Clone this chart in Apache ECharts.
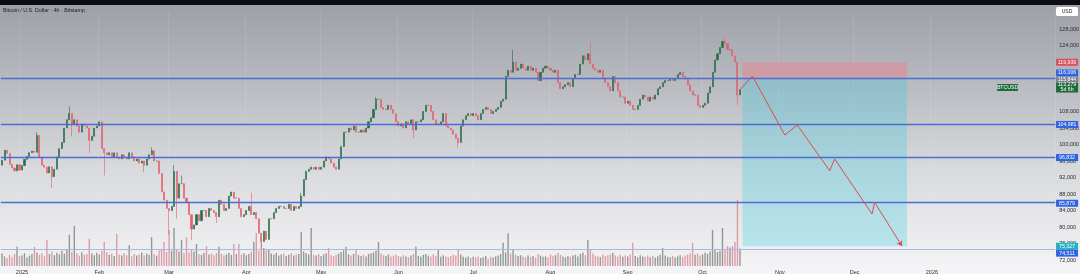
<!DOCTYPE html>
<html><head><meta charset="utf-8">
<script src="https://cdn.jsdelivr.net/npm/echarts@6/dist/echarts.min.js"></script>
<style>
html,body{margin:0;padding:0;width:1080px;height:274px;overflow:hidden;}
body{background:linear-gradient(to bottom,#0b0d12 0px,#0b0d12 5px,#9ea0a8 5px,#b8bac0 30%,#d9dadd 62%,#f5f5f7 100%);}
#c{width:1080px;height:274px;}
</style></head><body><div id="c"></div>
<script>
// ---- data (prices in thousand USD, one bar per day starting 2024-12-24) ----
const startDate = [2024, 11, 24];
const totalDays = 423;
const firstOpen = 95.0;
const closes = [
 96.2, 98.6, 97.8, 95.2, 94.3, 93.6, 95.1, 93.8, 94.9, 96.4,
 97.1, 98.0, 98.4, 98.1, 102.2, 96.9, 95.0, 94.5, 93.1, 94.6,
 92.2, 94.0, 97.0, 99.0, 100.5, 104.0, 106.0, 107.5, 105.0, 106.0,
 104.5, 103.0, 105.0, 104.5, 104.0, 101.0, 102.0, 104.0, 104.5, 105.5,
 99.0, 98.0, 97.5, 98.0, 97.0, 98.0, 97.0, 96.5, 97.5, 97.0,
 96.5, 98.0, 97.0, 96.0, 96.5, 95.5, 96.0, 95.0, 96.5, 97.5,
 98.5, 96.0, 96.0, 93.0, 88.5, 86.5, 84.5, 84.0, 85.0, 93.5,
 87.0, 90.5, 90.5, 87.0, 86.0, 83.0, 79.5, 80.5, 83.0, 81.5,
 84.0, 84.0, 82.5, 84.5, 84.0, 83.5, 82.5, 86.5, 85.5, 84.0,
 84.5, 87.5, 88.5, 87.0, 87.0, 84.5, 82.5, 83.0, 84.0, 85.0,
 83.0, 83.5, 82.0, 78.5, 76.5, 79.0, 77.0, 82.0, 82.0, 83.5,
 84.5, 85.0, 85.0, 84.5, 84.5, 85.5, 84.0, 85.0, 84.5, 85.0,
 87.5, 91.5, 93.5, 94.0, 94.5, 94.0, 94.5, 94.0, 94.5, 96.0,
 97.0, 96.5, 95.5, 94.5, 94.0, 96.5, 99.5, 103.0, 103.0, 104.0,
 103.5, 104.5, 103.0, 103.0, 103.5, 103.0, 104.0, 105.5, 106.5, 108.5,
 111.0, 111.0, 109.0, 108.5, 108.5, 109.5, 108.5, 107.5, 105.5, 104.5,
 105.0, 104.0, 105.5, 105.0, 106.0, 103.5, 105.5, 105.5, 106.0, 108.0,
 109.5, 109.5, 108.0, 106.0, 105.0, 105.0, 105.5, 107.5, 104.5, 104.0,
 103.5, 102.5, 101.5, 100.5, 104.5, 106.0, 107.0, 107.5, 107.0, 107.5,
 107.0, 106.0, 107.5, 108.5, 109.0, 108.5, 107.5, 108.0, 108.5, 109.0,
 110.5, 111.0, 116.5, 118.0, 117.5, 120.0, 118.0, 118.5, 119.5, 118.5,
 118.0, 119.0, 118.0, 118.5, 117.5, 115.5, 117.5, 118.5, 119.0, 118.5,
 118.0, 117.5, 118.0, 115.0, 113.5, 114.0, 114.5, 115.0, 114.0, 116.0,
 117.0, 117.0, 119.5, 121.5, 120.5, 122.0, 119.5, 118.5, 118.0, 117.5,
 118.0, 116.0, 115.0, 114.0, 113.0, 116.5, 115.0, 113.0, 111.5, 111.5,
 110.0, 110.5, 109.5, 108.5, 108.5, 109.5, 111.0, 112.0, 111.5, 110.5,
 111.5, 111.0, 112.0, 113.5, 114.0, 115.0, 115.5, 115.5, 116.0, 115.5,
 116.0, 117.0, 117.5, 116.5, 115.8, 114.5, 113.0, 112.0, 112.0, 109.5,
 109.0, 109.5, 110.0, 112.5, 114.0, 117.5, 120.5, 122.0, 123.5, 125.0,
 124.5, 123.0, 123.0, 121.5, 120.0, 112.0, 113.279
];
const wickLows = {
 '2025-01-13': 89.5, '2025-01-21': 102.0, '2025-01-28': 98.0, '2025-02-03': 92.5,
 '2025-02-19': 93.3, '2025-03-01': 78.2, '2025-03-04': 82.0, '2025-03-10': 76.8,
 '2025-03-20': 81.0, '2025-04-07': 74.6, '2025-06-07': 101.5, '2025-06-25': 99.3,
 '2025-10-15': 109.5
};
const wickHighs = {
 '2025-01-07': 103.0, '2025-01-20': 109.3, '2025-02-22': 99.3, '2025-03-03': 95.0,
 '2025-03-06': 92.5, '2025-04-03': 88.3, '2025-04-23': 88.3, '2025-05-23': 111.5,
 '2025-07-17': 123.0, '2025-08-17': 124.5, '2025-10-10': 126.0
};
const volumes = [
 3.1, 2.4, 2.0, 2.8, 2.2, 3.0, 4.8, 2.5, 2.7,
 3.2, 2.1, 2.6, 3.0, 4.8, 3.4, 2.8, 3.1, 2.4, 6.5,
 3.0, 3.6, 2.7, 3.3, 2.9, 3.8, 3.1, 4.0, 7.8, 3.5,
 10.0, 3.2, 2.6, 3.4, 2.8, 3.0, 6.8, 3.1, 2.7, 3.3,
 2.9, 3.8, 6.0, 3.5, 2.8, 3.1, 2.5, 8.0, 2.9, 2.6,
 3.2, 2.7, 5.2, 2.4, 3.0, 2.6, 2.9, 3.4, 2.7, 3.1,
 2.8, 7.2, 3.0, 2.6, 3.9, 4.2, 6.0, 3.5, 9.0, 3.8,
 9.5, 4.1, 3.6, 6.5, 3.2, 7.2, 3.4, 4.0, 3.6, 5.5,
 3.0, 2.8, 3.3, 5.0, 2.9, 3.1, 2.7, 3.2, 4.8, 3.0,
 2.6, 2.9, 3.3, 2.8, 5.5, 3.0, 5.5, 2.9, 3.2, 2.7,
 3.0, 3.6, 6.0, 8.2, 3.8, 6.0, 4.5, 3.9, 4.2, 3.1,
 2.8, 3.3, 2.6, 2.9, 3.1, 2.5, 2.8, 3.2, 2.6, 2.9,
 3.0, 8.5, 3.6, 3.2, 2.9, 9.5, 2.8, 2.6, 3.0, 2.5,
 2.9, 3.2, 4.5, 2.7, 2.4, 2.8, 3.1, 3.5, 3.9, 4.8,
 2.9, 2.6, 3.0, 4.2, 2.7, 2.5, 2.8, 2.4, 3.0, 3.2,
 3.4, 3.8, 6.0, 3.1, 2.7, 2.5, 2.9, 2.4, 2.6, 2.8,
 2.5, 2.3, 2.7, 2.4, 2.2, 2.6, 3.0, 4.8, 2.5, 2.3,
 2.8, 3.0, 2.6, 2.4, 2.9, 2.5, 4.0, 2.3, 2.7, 2.4,
 2.2, 2.5, 2.8, 2.6, 4.0, 2.9, 2.3, 2.1, 2.4, 2.0,
 2.3, 2.1, 2.4, 2.0, 2.2, 2.5, 1.9, 2.3, 2.1, 2.4,
 2.6, 3.0, 5.8, 3.4, 8.2, 3.1, 4.0, 2.8, 2.5, 2.7,
 2.4, 2.2, 2.6, 2.3, 2.5, 2.1, 3.0, 2.6, 2.3, 2.4,
 2.2, 2.9, 2.5, 2.7, 3.3, 2.8, 2.4, 2.2, 2.5, 2.3,
 2.6, 2.8, 2.4, 3.0, 3.4, 2.7, 6.5, 4.2, 3.1, 2.6,
 2.4, 2.2, 2.8, 2.5, 2.7, 2.9, 3.3, 2.6, 2.4, 2.8,
 2.3, 2.6, 2.4, 2.9, 5.8, 2.5, 2.2, 2.7, 2.4, 2.3,
 2.6, 2.2, 2.5, 2.1, 2.4, 2.8, 4.5, 2.6, 2.3, 2.2,
 2.5, 2.1, 2.4, 2.7, 2.3, 2.6, 2.9, 3.2, 5.8, 2.8,
 3.1, 2.6, 2.9, 3.3, 3.0, 3.6, 9.0, 4.1, 3.5, 3.8,
 9.5, 4.0, 5.0, 4.6, 5.0, 6.0, 16.5, 4.4
];
const monthTicks = ['2025-01-01','2025-02-01','2025-03-01','2025-04-01','2025-05-01','2025-06-01','2025-07-01','2025-08-01','2025-09-01','2025-10-01','2025-11-01','2025-12-01','2026-01-01'];
const monthLabels = ['2025','Feb','Mar','Apr','May','Jun','Jul','Aug','Sep','Oct','Nov','Dec','2026'];
const levels = [116.006, 104.981, 96.832, 85.879, 74.511];
const stopPrice = 119.939;
const entryPrice = 116.006;
const targetPrice = 75.327;
const prevClose = 115.844;
const positionStart = '2025-10-17';
const positionEnd = '2025-12-22';
const pathDates = ['2025-10-16','2025-10-21','2025-11-03','2025-11-08','2025-11-21','2025-11-23','2025-12-08','2025-12-09','2025-12-20'];
const pathValues = [113.279, 116.6, 102.3, 104.7, 93.65, 96.5, 83.15, 86.0, 75.4];
const titleText = 'Bitcoin / U.S. Dollar · 4h · Bitstamp';
const symbolName = 'BTCUSD';
const countdown = '5d 6h';
const currencyText = 'USD';

// ---- build ----
const FONT = 'Liberation Sans, Arial, sans-serif';
const cats = [];
const t0 = Date.UTC(startDate[0], startDate[1], startDate[2]);
for (let i = 0; i < totalDays; i++) cats.push(new Date(t0 + i * 86400000).toISOString().slice(0, 10));
const idx = d => cats.indexOf(d);
const fmt = v => Math.round(v * 1000).toLocaleString('en-US');

const opens = closes.map((c, i) => i ? closes[i - 1] : firstOpen);
const candles = closes.map((c, i) => {
  const o = opens[i], d = cats[i];
  let lo = Math.min(o, c), hi = Math.max(o, c);
  if (wickLows[d] != null) lo = Math.min(lo, wickLows[d]);
  if (wickHighs[d] != null) hi = Math.max(hi, wickHighs[d]);
  return [o, c, lo, hi];
});
const UP = '#2c6a45', DOWN = '#e0606c';
const volData = volumes.map((v, i) => ({
  value: v,
  itemStyle: { color: closes[i] >= opens[i] ? 'rgba(70,76,72,0.55)' : 'rgba(205,88,100,0.55)' }
}));

const lastIdx = totalDays - 1;
const lastClose = closes[closes.length - 1];
function tag(value, text, color, dy, h, dx, w) {
  return {
    coord: [lastIdx, value], symbol: 'rect',
    symbolSize: [w || 22, h || 7], symbolOffset: [dx == null ? 13 : dx, dy || 0],
    itemStyle: { color: color },
    label: { show: true, position: 'inside', formatter: text, color: '#fff', fontSize: 5.2, lineHeight: 5, fontFamily: FONT }
  };
}
const BLUE = '#2f62e0';
const tags = [
  tag(stopPrice, fmt(stopPrice), '#d7505c', 0),
  tag(levels[0], fmt(levels[0]), BLUE, -5.5),
  tag(prevClose, fmt(prevClose), '#7f8289', 0.5, 5.5),
  tag(lastClose, fmt(lastClose) + '\n' + countdown, '#1f6a3a', -2.2, 10),
  tag(lastClose, symbolName, '#1f6a3a', -2.2, 7, -46.5, 21),
  tag(levels[1], fmt(levels[1]), BLUE, 0.5),
  tag(levels[2], fmt(levels[2]), BLUE, 0),
  tag(levels[3], fmt(levels[3]), BLUE, 0.5),
  tag(targetPrice, fmt(targetPrice), '#23b2c2', 0),
  tag(levels[4], fmt(levels[4]), BLUE, 3.5)
];

const markLines = levels.map((v, i) => ({
  yAxis: v,
  lineStyle: { color: i === levels.length - 1 ? '#a4b8ea' : '#4a6dd6', width: i === levels.length - 1 ? 1.1 : 1.4, type: 'solid' }
}));
for (let i = 0; i < pathDates.length - 1; i++) {
  const last = i === pathDates.length - 2;
  markLines.push([
    { coord: [idx(pathDates[i]), pathValues[i]], symbol: 'none', lineStyle: { color: '#dd4a4a', width: 1, type: 'solid' } },
    { coord: [idx(pathDates[i + 1]), pathValues[i + 1]], symbol: last ? 'arrow' : 'none', symbolSize: 5 }
  ]);
}

const chart = echarts.init(document.getElementById('c'), null, { renderer: 'canvas' });
chart.setOption({
  animation: false,
  backgroundColor: 'transparent',
  textStyle: { fontFamily: FONT },
  title: { text: titleText, left: 3, top: 8, padding: 0, textStyle: { fontSize: 5.3, color: '#1c1c1c', fontWeight: 'normal', fontFamily: FONT } },
  graphic: [
    { type: 'rect', shape: { x: 1056, y: 7, width: 22, height: 9, r: 1.5 }, style: { fill: '#ffffff' }, z: 10 },
    { type: 'text', style: { x: 1067, y: 11.5, text: currencyText, fill: '#222', fontSize: 5, fontFamily: FONT, align: 'center', verticalAlign: 'middle', textAlign: 'center', textVerticalAlign: 'middle' }, z: 11 }
  ],
  grid: [
    { left: 0.8, top: 12.5, width: 1054.5, height: 264, containLabel: false, outerBoundsMode: 'none' },
    { left: 0.8, top: 166, width: 1054.5, height: 100, containLabel: false, outerBoundsMode: 'none' }
  ],
  xAxis: [
    { type: 'category', data: cats, gridIndex: 0, boundaryGap: true,
      axisLine: { show: false }, axisTick: { show: false }, axisLabel: { show: false },
      splitLine: { show: true, interval: (i, v) => monthTicks.indexOf(cats[i]) >= 0, lineStyle: { color: 'rgba(255,255,255,0.1)', width: 1 } } },
    { type: 'category', data: cats, gridIndex: 1, boundaryGap: true,
      axisLine: { show: false }, axisTick: { show: false }, splitLine: { show: false },
      axisLabel: { show: true, interval: (i, v) => monthTicks.indexOf(v) >= 0, formatter: v => monthLabels[monthTicks.indexOf(v)] || '',
        fontSize: 5.5, color: '#333', margin: 3, fontFamily: FONT } }
  ],
  yAxis: [
    { type: 'value', gridIndex: 0, position: 'right', min: 68, max: 132, interval: 4, scale: false,
      axisLine: { show: false }, axisTick: { show: false }, splitLine: { show: false },
      axisLabel: { fontSize: 5.5, color: '#2a2a2a', margin: 4, fontFamily: FONT,
        formatter: v => (v >= 132 || v <= 68 || v === 120 || v === 116 || v === 112) ? '' : fmt(v) } },
    { type: 'value', gridIndex: 1, min: 0, max: 25, show: false, splitLine: { show: false } }
  ],
  series: [
    { type: 'bar', name: 'Volume', xAxisIndex: 1, yAxisIndex: 1, data: volData, barWidth: '55%', silent: true, z: 1 },
    { type: 'candlestick', name: 'BTCUSD', xAxisIndex: 0, yAxisIndex: 0, data: candles, barWidth: '62%', z: 3,
      itemStyle: { color: UP, color0: DOWN, borderColor: UP, borderColor0: DOWN, borderWidth: 0.6 },
      markArea: { silent: true, data: [
        [ { coord: [idx(positionStart), stopPrice], itemStyle: { color: 'rgba(250,110,125,0.36)' } }, { coord: [idx(positionEnd), entryPrice] } ],
        [ { coord: [idx(positionStart), entryPrice], itemStyle: { color: 'rgba(40,205,225,0.27)' } }, { coord: [idx(positionEnd), targetPrice] } ]
      ] },
      markLine: { silent: true, symbol: ['none', 'none'], label: { show: false }, data: markLines },
      markPoint: { silent: true, data: tags }
    }
  ]
});
</script></body></html>
